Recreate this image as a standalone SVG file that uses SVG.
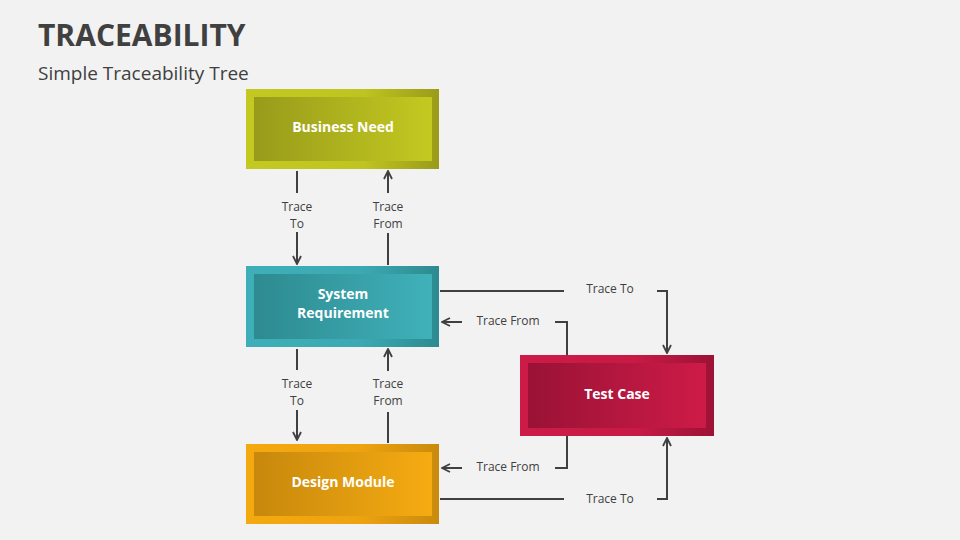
<svg xmlns="http://www.w3.org/2000/svg" width="960" height="540" viewBox="0 0 960 540">
<defs>
<linearGradient id="gYo" x1="0" x2="1"><stop offset="0" stop-color="#c4c921"/><stop offset="0.6" stop-color="#bfc520"/><stop offset="1" stop-color="#9a9c1a"/></linearGradient>
<linearGradient id="gYi" x1="0" x2="1"><stop offset="0" stop-color="#989b1a"/><stop offset="1" stop-color="#c4c921"/></linearGradient>
<linearGradient id="gTo" x1="0" x2="1"><stop offset="0" stop-color="#3eafb8"/><stop offset="0.6" stop-color="#3ba9b2"/><stop offset="1" stop-color="#2d8a90"/></linearGradient>
<linearGradient id="gTi" x1="0" x2="1"><stop offset="0" stop-color="#2d8a90"/><stop offset="1" stop-color="#40b1ba"/></linearGradient>
<linearGradient id="gRo" x1="0" x2="1"><stop offset="0" stop-color="#cd1b47"/><stop offset="0.6" stop-color="#c71a45"/><stop offset="1" stop-color="#9c1236"/></linearGradient>
<linearGradient id="gRi" x1="0" x2="1"><stop offset="0" stop-color="#9a1236"/><stop offset="1" stop-color="#cd1b47"/></linearGradient>
<linearGradient id="gOo" x1="0" x2="1"><stop offset="0" stop-color="#f5a910"/><stop offset="0.6" stop-color="#eda210"/><stop offset="1" stop-color="#c98a0c"/></linearGradient>
<linearGradient id="gOi" x1="0" x2="1"><stop offset="0" stop-color="#c7880c"/><stop offset="1" stop-color="#f6ab12"/></linearGradient>
<marker id="ar" viewBox="0 0 10 10" refX="9" refY="5" markerWidth="10" markerHeight="10" markerUnits="userSpaceOnUse" orient="auto"><path d="M1,1 L9,5 L1,9" fill="none" stroke="#404040" stroke-width="1.8"/></marker>
</defs>
<style>
.t{font-family:"Open Sans","Liberation Sans",sans-serif}
.nl{font-family:"Open Sans","Liberation Sans",sans-serif;font-weight:bold;font-size:14px;fill:#fff;text-anchor:middle}
.cl{font-family:"Open Sans","Liberation Sans",sans-serif;font-size:12px;fill:#404040;text-anchor:middle}
.c{fill:none;stroke:#404040;stroke-width:2}
</style>
<rect width="960" height="540" fill="#f2f2f2"/>
<text class="t" x="38" y="46" font-size="30" font-weight="bold" fill="#404040">TRACEABILITY</text>
<text class="t" x="38" y="80" font-size="19" fill="#404040">Simple Traceability Tree</text>
<g id="business-need"><rect x="246" y="89" width="193" height="80" fill="url(#gYo)"/><rect x="254" y="97" width="178" height="64" fill="url(#gYi)"/><text class="nl" x="343" y="132">Business Need</text></g>
<g id="system-requirement"><rect x="246" y="266" width="193" height="81" fill="url(#gTo)"/><rect x="254" y="274" width="178" height="65" fill="url(#gTi)"/><text class="nl" x="343" y="299">System</text><text class="nl" x="343" y="318">Requirement</text></g>
<g id="test-case"><rect x="520" y="355" width="194" height="81" fill="url(#gRo)"/><rect x="528" y="363" width="178" height="65" fill="url(#gRi)"/><text class="nl" x="617" y="399">Test Case</text></g>
<g id="design-module"><rect x="246" y="444" width="193" height="80" fill="url(#gOo)"/><rect x="254" y="452" width="178" height="64" fill="url(#gOi)"/><text class="nl" x="343" y="487">Design Module</text></g>
<g id="connectors">
<path class="c" d="M297,171 V193"/><path class="c" d="M297,232 V264" marker-end="url(#ar)"/>
<text class="cl" x="297" y="211">Trace</text><text class="cl" x="297" y="228">To</text>
<path class="c" d="M388,265 V233"/><path class="c" d="M388,193 V171" marker-end="url(#ar)"/>
<text class="cl" x="388" y="211">Trace</text><text class="cl" x="388" y="228">From</text>
<path class="c" d="M297,349 V370"/><path class="c" d="M297,410 V440" marker-end="url(#ar)"/>
<text class="cl" x="297" y="388">Trace</text><text class="cl" x="297" y="405">To</text>
<path class="c" d="M388,443 V412"/><path class="c" d="M388,371 V349" marker-end="url(#ar)"/>
<text class="cl" x="388" y="388">Trace</text><text class="cl" x="388" y="405">From</text>
<path class="c" d="M440,291 H564"/><path class="c" d="M657,291 H667 V353" marker-end="url(#ar)"/>
<text class="cl" x="610" y="293">Trace To</text>
<path class="c" d="M567,355 V322 H555"/><path class="c" d="M462,322 H442" marker-end="url(#ar)"/>
<text class="cl" x="508" y="325">Trace From</text>
<path class="c" d="M567,436 V468 H555"/><path class="c" d="M462,468 H442" marker-end="url(#ar)"/>
<text class="cl" x="508" y="471">Trace From</text>
<path class="c" d="M440,499 H564"/><path class="c" d="M657,499 H667 V438" marker-end="url(#ar)"/>
<text class="cl" x="610" y="503">Trace To</text>
</g>
</svg>
